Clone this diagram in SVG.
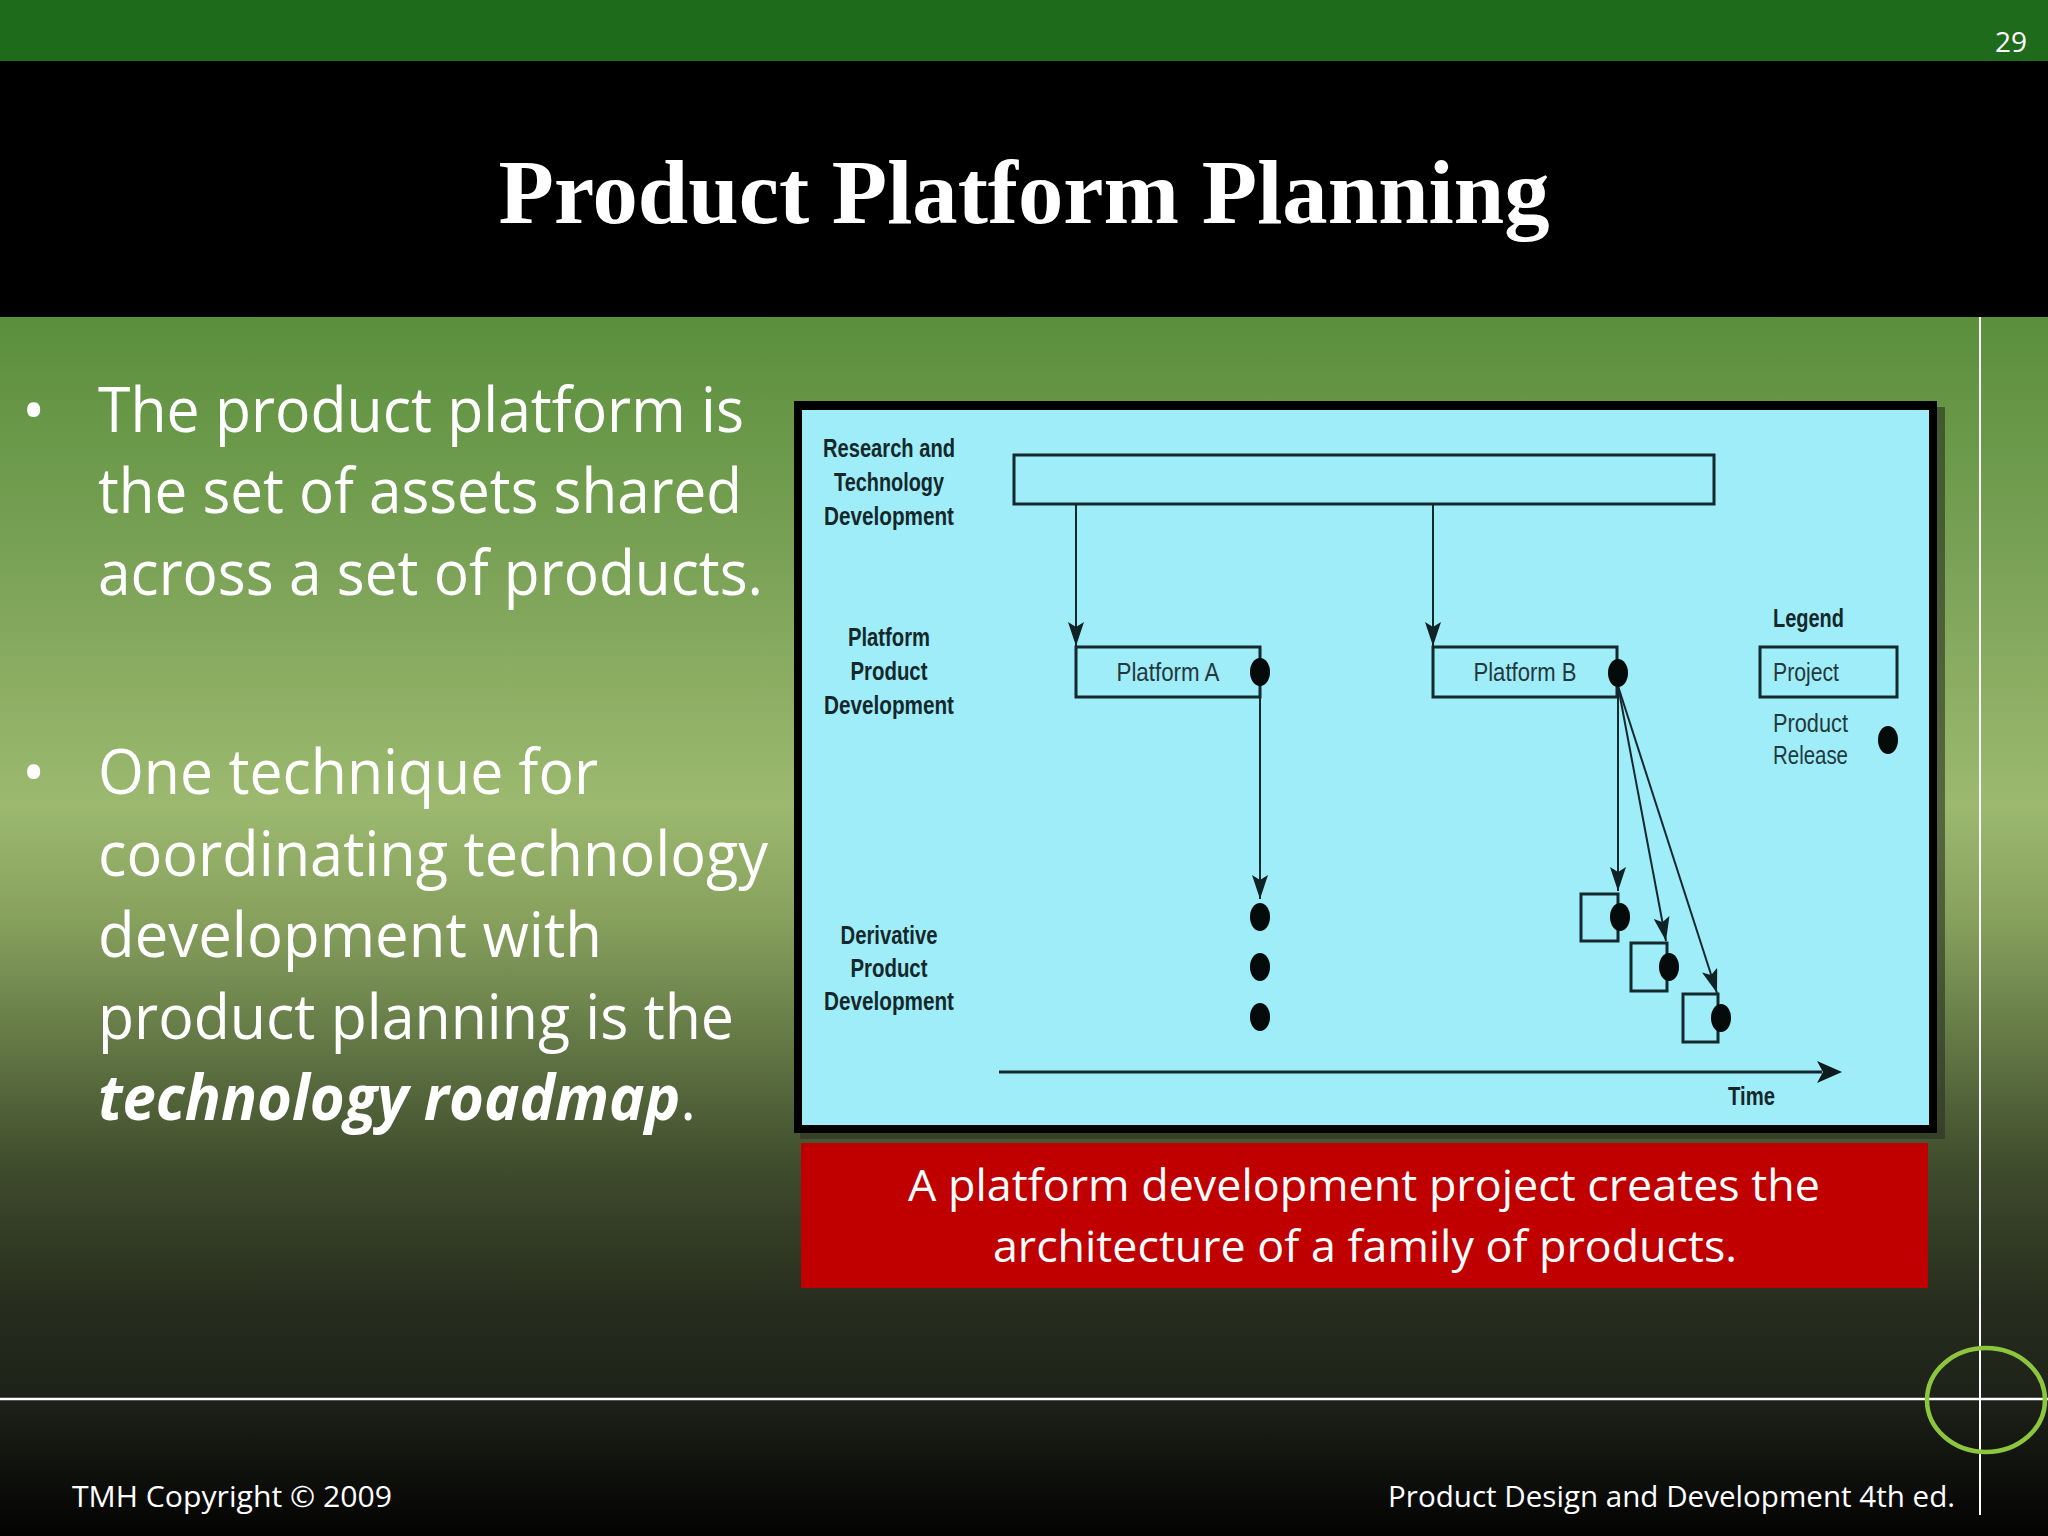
<svg xmlns="http://www.w3.org/2000/svg" width="2048" height="1536" viewBox="0 0 2048 1536">
  <defs>
    <linearGradient id="bg" x1="0" y1="317" x2="0" y2="1536" gradientUnits="userSpaceOnUse">
      <stop offset="0" stop-color="#5a8f3c"/>
      <stop offset="0.2" stop-color="#7aa256"/>
      <stop offset="0.4" stop-color="#9cb96f"/>
      <stop offset="0.49" stop-color="#88a25e"/>
      <stop offset="0.6" stop-color="#617644"/>
      <stop offset="0.7" stop-color="#3e4b2c"/>
      <stop offset="0.81" stop-color="#272d1e"/>
      <stop offset="0.89" stop-color="#1d2118"/>
      <stop offset="1" stop-color="#030303"/>
    </linearGradient>
    <marker id="arr" viewBox="0 0 24 16" refX="24" refY="8" markerWidth="24" markerHeight="16" markerUnits="userSpaceOnUse" orient="auto">
      <path d="M0,0 L24,8 L0,16 L5,8 z" fill="#0f2226"/>
    </marker>
    <style>
      .slide { font-family: "Open Sans", "Liberation Sans", sans-serif; fill: #ffffff; }
      .bullet { font-size: 62px; }
      .lbl { font-family: "Liberation Sans", Arial, sans-serif; font-size: 25px; font-weight: bold; fill: #14282b; }
      .lblr { font-family: "Liberation Sans", Arial, sans-serif; font-size: 25px; fill: #23393d; }
      .box { fill: none; stroke: #13292d; stroke-width: 3; }
      .ln { stroke: #13292d; stroke-width: 2; fill: none; }
      .dot { fill: #050a0b; }
    </style>
  </defs>

  <!-- background -->
  <rect x="0" y="317" width="2048" height="1219" fill="url(#bg)"/>
  <rect x="0" y="0" width="2048" height="61" fill="#1f6b1c"/>
  <rect x="0" y="61" width="2048" height="256" fill="#000000"/>

  <!-- decorations -->
  <line x1="1980" y1="317" x2="1980" y2="1515" stroke="#ffffff" stroke-width="2"/>
  <line x1="0" y1="1399" x2="2048" y2="1399" stroke="#ffffff" stroke-width="2.5"/>
  <ellipse cx="1986" cy="1400" rx="59" ry="52" fill="none" stroke="#8cc63f" stroke-width="4.5"/>

  <!-- title -->
  <text x="1024" y="223" text-anchor="middle" font-family="'Liberation Serif', 'Times New Roman', serif" font-weight="bold" font-size="92" fill="#ffffff" textLength="1051" lengthAdjust="spacingAndGlyphs">Product Platform Planning</text>
  <text x="2027" y="52" text-anchor="end" class="slide" font-size="28">29</text>

  <!-- bullets -->
  <g id="bullets" class="slide bullet">
    <text x="22" y="432">•</text>
    <text x="98" y="432" textLength="646" lengthAdjust="spacingAndGlyphs">The product platform is</text>
    <text x="98" y="513" textLength="644" lengthAdjust="spacingAndGlyphs">the set of assets shared</text>
    <text x="98" y="595" textLength="665" lengthAdjust="spacingAndGlyphs">across a set of products.</text>
    <text x="22" y="794">•</text>
    <text x="98" y="794" textLength="500" lengthAdjust="spacingAndGlyphs">One technique for</text>
    <text x="98" y="876" textLength="670" lengthAdjust="spacingAndGlyphs">coordinating technology</text>
    <text x="98" y="957" textLength="504" lengthAdjust="spacingAndGlyphs">development with</text>
    <text x="98" y="1039" textLength="636" lengthAdjust="spacingAndGlyphs">product planning is the</text>
    <text x="98" y="1120" textLength="598" lengthAdjust="spacingAndGlyphs"><tspan font-weight="bold" font-style="italic">technology roadmap</tspan>.</text>
  </g>

  <!-- diagram frame -->
  <rect x="800" y="407" width="1145" height="732" fill="#2a3020" opacity="0.6"/>
  <rect x="794" y="401" width="1143" height="732" fill="#000000"/>
  <rect x="802" y="410" width="1127" height="715" fill="#9fedf9"/>

  <!-- row labels -->
  <g id="label-research" class="lbl" text-anchor="middle">
    <text x="889" y="457" textLength="132" lengthAdjust="spacingAndGlyphs">Research and</text>
    <text x="889" y="491" textLength="110" lengthAdjust="spacingAndGlyphs">Technology</text>
    <text x="889" y="525" textLength="130" lengthAdjust="spacingAndGlyphs">Development</text>
  </g>
  <g id="label-platform" class="lbl" text-anchor="middle">
    <text x="889" y="646" textLength="82" lengthAdjust="spacingAndGlyphs">Platform</text>
    <text x="889" y="680" textLength="77" lengthAdjust="spacingAndGlyphs">Product</text>
    <text x="889" y="714" textLength="130" lengthAdjust="spacingAndGlyphs">Development</text>
  </g>
  <g id="label-derivative" class="lbl" text-anchor="middle">
    <text x="889" y="944" textLength="97" lengthAdjust="spacingAndGlyphs">Derivative</text>
    <text x="889" y="977" textLength="77" lengthAdjust="spacingAndGlyphs">Product</text>
    <text x="889" y="1010" textLength="130" lengthAdjust="spacingAndGlyphs">Development</text>
  </g>

  <!-- connectors -->
  <g id="connectors">
    <line class="ln" x1="1076" y1="504" x2="1076" y2="646" marker-end="url(#arr)"/>
    <line class="ln" x1="1433" y1="504" x2="1433" y2="646" marker-end="url(#arr)"/>
    <line class="ln" x1="1260" y1="686" x2="1260" y2="899" marker-end="url(#arr)"/>
    <line class="ln" x1="1618" y1="686" x2="1618" y2="891" marker-end="url(#arr)"/>
    <line class="ln" x1="1618" y1="686" x2="1666" y2="941" marker-end="url(#arr)"/>
    <line class="ln" x1="1618" y1="686" x2="1717" y2="993" marker-end="url(#arr)"/>
    <line x1="999" y1="1072" x2="1822" y2="1072" stroke="#13292d" stroke-width="3"/>
    <path d="M1842,1072 L1817,1061 L1823,1072 L1817,1083 z" fill="#0a1a1d"/>
  </g>

  <!-- nodes -->
  <g id="research-bar">
    <rect class="box" x="1014" y="455" width="700" height="49"/>
  </g>
  <g id="platform-a">
    <rect class="box" x="1076" y="647" width="184" height="50"/>
    <text class="lblr" x="1168" y="681" text-anchor="middle" textLength="103" lengthAdjust="spacingAndGlyphs">Platform A</text>
    <ellipse class="dot" cx="1260" cy="672" rx="10" ry="14"/>
  </g>
  <g id="platform-b">
    <rect class="box" x="1433" y="647" width="184" height="50"/>
    <text class="lblr" x="1525" y="681" text-anchor="middle" textLength="103" lengthAdjust="spacingAndGlyphs">Platform B</text>
    <ellipse class="dot" cx="1618" cy="673" rx="10" ry="14"/>
  </g>
  <g id="derivatives-a">
    <ellipse class="dot" cx="1260" cy="917" rx="10" ry="14"/>
    <ellipse class="dot" cx="1260" cy="967" rx="10" ry="14"/>
    <ellipse class="dot" cx="1260" cy="1017" rx="10" ry="14"/>
  </g>
  <g id="derivative-b1">
    <rect class="box" x="1581" y="894" width="37" height="47"/>
    <ellipse class="dot" cx="1620" cy="917" rx="10" ry="14"/>
  </g>
  <g id="derivative-b2">
    <rect class="box" x="1631" y="943" width="36" height="48"/>
    <ellipse class="dot" cx="1669" cy="967" rx="10" ry="14"/>
  </g>
  <g id="derivative-b3">
    <rect class="box" x="1683" y="994" width="35" height="48"/>
    <ellipse class="dot" cx="1721" cy="1018" rx="10" ry="14"/>
  </g>

  <!-- legend -->
  <g id="legend">
    <text class="lbl" x="1773" y="627" textLength="71" lengthAdjust="spacingAndGlyphs">Legend</text>
    <rect class="box" x="1760" y="647" width="137" height="50"/>
    <text class="lblr" x="1773" y="681" textLength="66" lengthAdjust="spacingAndGlyphs">Project</text>
    <text class="lblr" x="1773" y="732" textLength="75" lengthAdjust="spacingAndGlyphs">Product</text>
    <text class="lblr" x="1773" y="764" textLength="75" lengthAdjust="spacingAndGlyphs">Release</text>
    <ellipse class="dot" cx="1888" cy="740" rx="10" ry="14"/>
  </g>
  <text class="lbl" x="1728" y="1105" textLength="47" lengthAdjust="spacingAndGlyphs">Time</text>

  <!-- caption -->
  <g id="caption">
    <rect x="801" y="1143" width="1127" height="145" fill="#c00000"/>
    <text class="slide" x="1364" y="1201" text-anchor="middle" font-size="43" textLength="912" lengthAdjust="spacingAndGlyphs">A platform development project creates the</text>
    <text class="slide" x="1365" y="1262" text-anchor="middle" font-size="43" textLength="744" lengthAdjust="spacingAndGlyphs">architecture of a family of products.</text>
  </g>

  <!-- footer -->
  <text class="slide" x="72" y="1507" font-size="29" textLength="320" lengthAdjust="spacingAndGlyphs">TMH Copyright © 2009</text>
  <text class="slide" x="1955" y="1507" font-size="29" text-anchor="end" textLength="567" lengthAdjust="spacingAndGlyphs">Product Design and Development 4th ed.</text>
</svg>
